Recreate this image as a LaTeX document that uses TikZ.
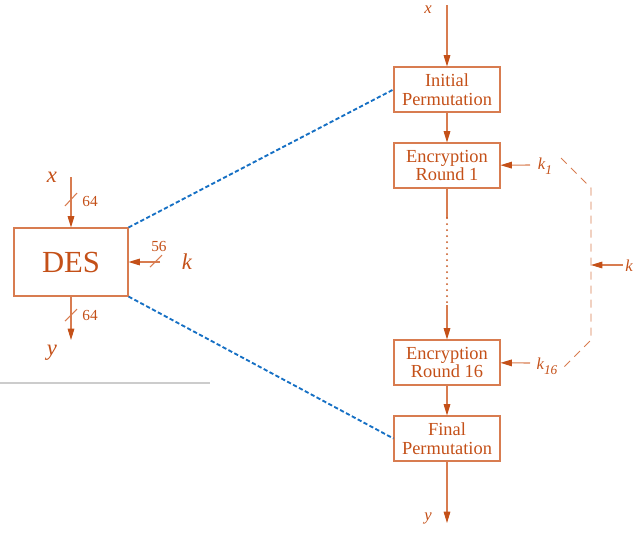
\documentclass[tikz,border=0pt]{standalone}
\usepackage{fontspec}
\setmainfont{Liberation Serif}
\usetikzlibrary{arrows.meta}
\definecolor{rust}{RGB}{196,80,24}
\definecolor{boxline}{RGB}{216,124,80}
\definecolor{dashblue}{RGB}{22,112,196}

\begin{document}
\begin{tikzpicture}[x=0.75pt,y=-0.75pt,
    blk/.style={draw=boxline,line width=0.8pt,text=rust,align=center,
      minimum width=79.5pt,minimum height=33.75pt,inner sep=0pt,
      font=\fontsize{13.8}{14.2}\selectfont},
    wire/.style={draw=boxline,line width=0.8pt},
    flow/.style={wire,-{Triangle[length=8.5pt,width=5pt,color=rust]}},
    lbl/.style={text=rust,inner sep=0pt,font=\fontsize{17}{19}\selectfont\itshape},
    slbl/.style={text=rust,inner sep=0pt,font=\fontsize{12.5}{14}\selectfont\itshape},
    num/.style={text=rust,inner sep=0pt,font=\fontsize{11.5}{13}\selectfont},
    zoomline/.style={draw=dashblue,line width=1.4pt,dash pattern=on 3.2pt off 1.8pt},
    keyline/.style={draw=boxline,line width=0.6pt,dash pattern=on 6pt off 4.5pt}]

    \useasboundingbox (0,0) rectangle (644,533);

    % DES als Blackbox
    \node[blk,minimum width=85.5pt,minimum height=51pt,
      font=\fontsize{23}{26}\selectfont] (des) at (71,262) {DES};
    \node[lbl] (xin) at (52,177) {x};
    \node[lbl] (yout) at (52,353) {y};
    \node[lbl] (kin) at (187,262) {k};
    \coordinate (xtop) at (71,177);
    \coordinate (ybot) at (71,340);
    \coordinate (kend) at (160,262);
    \draw[flow] (xtop) -- (des);
    \draw[flow] (des) -- (ybot);
    \draw[flow] (kend) -- (des);

    % Busbreiten
    \draw[wire] (65,206) -- (77,193);
    \draw[wire] (65,321) -- (77,309);
    \draw[wire] (150,267) -- (162,255);
    \node[num] at (90,201) {64};
    \node[num] at (90,315) {64};
    \node[num] at (159,246) {56};

    % Trennlinie
    \draw[gray!40,line width=0.8pt] (0,383) -- (210,383);

    % Ablauf der Runden
    \node[blk] (ip) at (447,89.5) {Initial\\Permutation};
    \node[blk] (er1) at (447,165.5) {Encryption\\Round 1};
    \node[blk] (er16) at (447,362.5) {Encryption\\Round 16};
    \node[blk] (fp) at (447,438.5) {Final\\Permutation};

    \node[slbl] (xr) at (428,10) {x};
    \node[slbl] (yr) at (428,518) {y};
    \coordinate (xrtop) at (447,5);
    \coordinate (yrbot) at (447,523);
    \coordinate (d1) at (447,218);
    \coordinate (d2) at (447,305);

    \draw[flow] (xrtop) -- (ip);
    \draw[flow] (ip) -- (er1);
    \draw[wire] (er1) -- (d1);
    \draw[draw=rust,line cap=round,dash pattern=on 0pt off 4.5pt,line width=1.5pt] (d1) -- (d2);
    \draw[flow] (d2) -- (er16);
    \draw[flow] (er16) -- (fp);
    \draw[flow] (fp) -- (yrbot);

    % Rundenschluessel
    \node[slbl] (k1) at (545,166) {k\raisebox{-0.6ex}{\fontsize{10}{12}\selectfont 1}};
    \node[slbl] (k16) at (547,366) {k\raisebox{-0.6ex}{\fontsize{10}{12}\selectfont 16}};
    \node[slbl] (kr) at (629,266) {k};
    \coordinate (k1end) at (530,165);
    \coordinate (k16end) at (530,363);
    \coordinate (krend) at (623,265);
    \coordinate (kbus) at (591,265);
    \draw[flow] (k1end) -- (er1);
    \draw[flow] (k16end) -- (er16);
    \draw[flow] (krend) -- (kbus);
    \draw[keyline] (561,158) -- (591,188) -- (591,340) -- (561,370);

    % Lupe
    \draw[zoomline] (des.north east) -- (ip.west);
    \draw[zoomline] (des.south east) -- (fp.west);

\end{tikzpicture}
\end{document}
